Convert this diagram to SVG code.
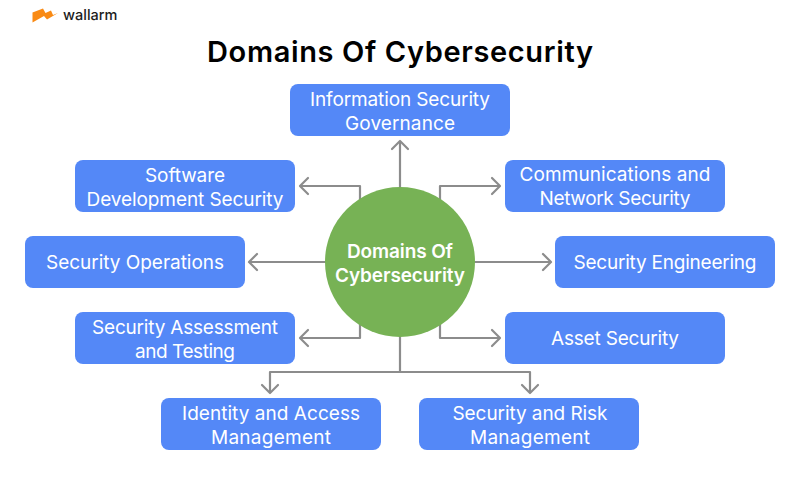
<svg xmlns="http://www.w3.org/2000/svg" width="800" height="480" viewBox="0 0 800 480">
<style>
.box{fill:#5488f7}
.t{font-family:"Inter","Liberation Sans",sans-serif;font-size:19px;fill:#fff;text-anchor:middle}
.c{font-family:"Inter","Liberation Sans",sans-serif;font-size:19px;font-weight:600;fill:#fff;text-anchor:middle}
.l{fill:none;stroke:#8c8c8c;stroke-width:2.2;stroke-linejoin:round}
</style>
<defs><marker id="a" markerUnits="userSpaceOnUse" markerWidth="16" markerHeight="20" refX="14" refY="10" orient="auto"><path d="M6 2L14 10L6 18" fill="none" stroke="#8c8c8c" stroke-width="2.2" stroke-linecap="round" stroke-linejoin="round"/></marker></defs>
<rect width="800" height="480" fill="#fff"/>
<g id="logo">
<path d="M32.500 12.500L43 8.500L45.500 13L51 10.500L53 15L58 13L47 19.500L44 16L32.500 22.500Z" fill="#f98a14"/>
<text x="63" y="20" font-family="Inter,'Liberation Sans',sans-serif" font-size="14.500" font-weight="500" fill="#1c1c1c">wallarm</text>
</g>
<text id="title" x="400" y="62" text-anchor="middle" font-family="Inter,'Liberation Sans',sans-serif" font-size="29px" font-weight="600" fill="#000" textLength="386">Domains Of Cybersecurity</text>
<g id="connectors">
<path class="l" marker-end="url(#a)" d="M400 190V141"/>
<path class="l" marker-end="url(#a)" d="M360 205V186H300"/>
<path class="l" marker-end="url(#a)" d="M440 205V186H500"/>
<path class="l" marker-end="url(#a)" d="M330 262H249"/>
<path class="l" marker-end="url(#a)" d="M470 262H551"/>
<path class="l" marker-end="url(#a)" d="M360 320V338H300"/>
<path class="l" marker-end="url(#a)" d="M440 320V338H500"/>
<path class="l" marker-end="url(#a)" d="M400 330V372H270V393"/>
<path class="l" marker-end="url(#a)" d="M400 372H530V393"/>
</g>
<g id="n-gov"><rect class="box" x="290" y="84" width="220" height="52" rx="8"/><text class="t" x="400" y="106" textLength="180">Information Security</text><text class="t" x="400" y="130" textLength="110">Governance</text></g>
<g id="n-soft"><rect class="box" x="75" y="160" width="220" height="52" rx="8"/><text class="t" x="185" y="182" textLength="80">Software</text><text class="t" x="185" y="206" textLength="197">Development Security</text></g>
<g id="n-comm"><rect class="box" x="505" y="160" width="220" height="52" rx="8"/><text class="t" x="615" y="181" textLength="191">Communications and</text><text class="t" x="615" y="205" textLength="151">Network Security</text></g>
<g id="n-ops"><rect class="box" x="25" y="236" width="220" height="52" rx="8"/><text class="t" x="135" y="269" textLength="178">Security Operations</text></g>
<g id="n-eng"><rect class="box" x="555" y="236" width="220" height="52" rx="8"/><text class="t" x="665" y="269" textLength="183">Security Engineering</text></g>
<g id="n-test"><rect class="box" x="75" y="312" width="220" height="52" rx="8"/><text class="t" x="185" y="334" textLength="186">Security Assessment</text><text class="t" x="185" y="358" textLength="100">and Testing</text></g>
<g id="n-asset"><rect class="box" x="505" y="312" width="220" height="52" rx="8"/><text class="t" x="615" y="345" textLength="128">Asset Security</text></g>
<g id="n-iam"><rect class="box" x="161" y="398" width="220" height="52" rx="8"/><text class="t" x="271" y="420" textLength="178">Identity and Access</text><text class="t" x="271" y="444" textLength="120">Management</text></g>
<g id="n-risk"><rect class="box" x="419" y="398" width="220" height="52" rx="8"/><text class="t" x="530" y="420" textLength="155">Security and Risk</text><text class="t" x="530" y="444" textLength="120">Management</text></g>
<g id="n-center"><circle cx="400" cy="262" r="75" fill="#77b255"/><text class="c" x="400" y="258" textLength="106">Domains Of</text><text class="c" x="400" y="282" textLength="130">Cybersecurity</text></g>
</svg>
